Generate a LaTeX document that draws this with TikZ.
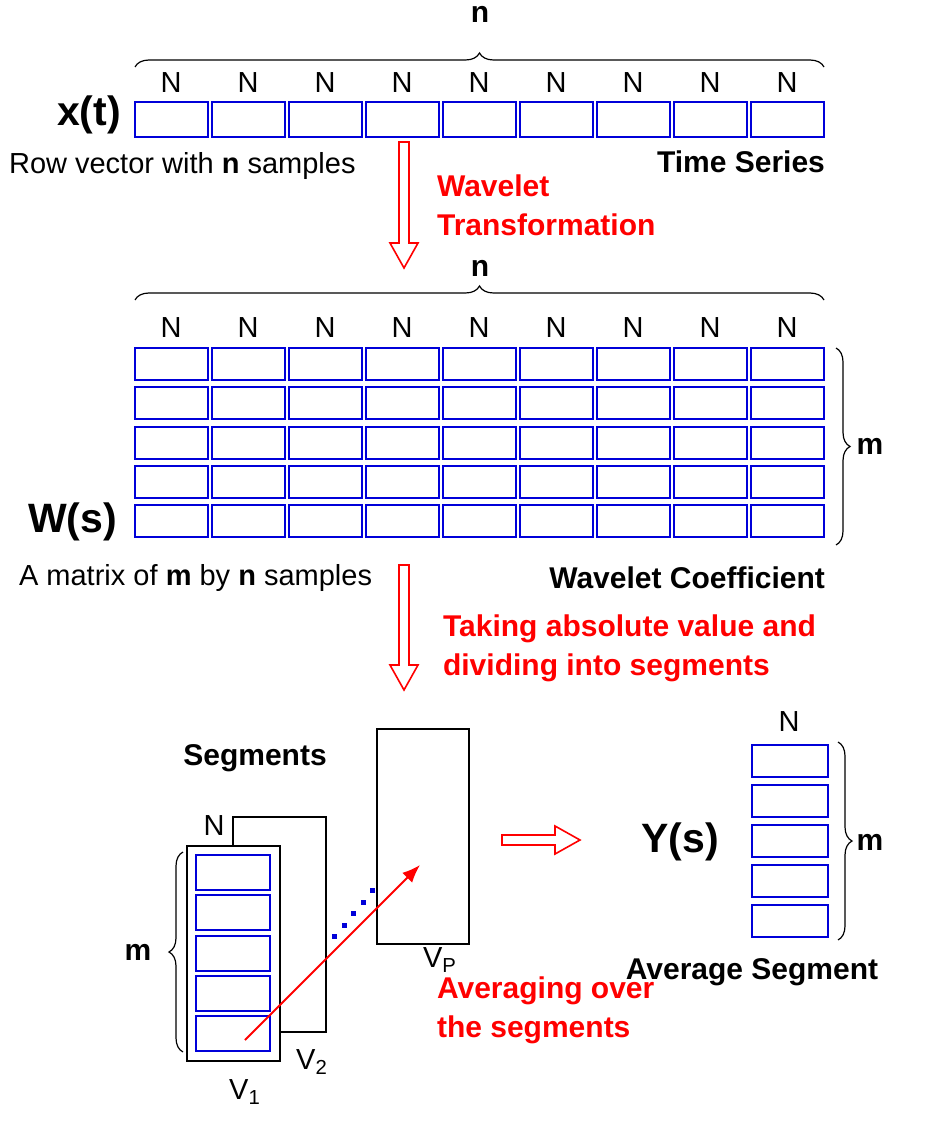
\documentclass[tikz,border=0pt]{standalone}
\usepackage{fontspec}
\setmainfont{Liberation Sans}
\usetikzlibrary{decorations.pathreplacing,arrows.meta}
\begin{document}
\begin{tikzpicture}[x=0.5pt,y=-0.5pt,
    cell/.style={draw=blue!85!black, line width=0.9pt},
    seg/.style={draw=black, fill=white, line width=0.7pt},
    brc/.style={decorate, decoration={brace, amplitude=7pt}, line width=0.6pt},
    lbl/.style={font=\fontsize{14.5}{16}\selectfont},
    bld/.style={font=\fontsize{15}{17}\selectfont\bfseries},
    title/.style={font=\fontsize{20.5}{22}\selectfont\bfseries},
    redtxt/.style={font=\fontsize{15}{19.5}\selectfont\bfseries, text=red, align=left, anchor=west},
    hollow/.style={draw=red, line width=0.8pt, fill=white},
]
\useasboundingbox (0,0) rectangle (934,1138);

% Time series row
\foreach \i in {0,...,8} {
    \draw[cell] (135+77*\i,102) rectangle +(73,35);
    \node[lbl] (nt\i) at (171+77*\i,83) {N};
}
\draw[brc] (135,67) -- (824,67);
\node[bld] (ntop) at (480,14) {n};
\node[title, anchor=east] (xt) at (128,115) {x(t)};
\node[lbl, anchor=west] (rowtxt) at (2,166) {Row vector with \textbf{n} samples};
\node[bld, anchor=east] (ts) at (832,162) {Time Series};

% First transformation arrow
\draw[hollow] (399,142) -- (409,142) -- (409,243) -- (418,243) -- (404,268) -- (390,243) -- (399,243) -- cycle;
\node[redtxt] (wt) at (430,205) {Wavelet\\Transformation};

% Wavelet coefficient matrix
\foreach \i in {0,...,8} {
    \foreach \j in {0,...,4}
        \draw[cell] (135+77*\i,348+39.3*\j) rectangle +(73,32);
    \node[lbl] (nm\i) at (171+77*\i,328) {N};
}
\draw[brc] (135,300) -- (824,300);
\node[bld] (nmid) at (480,268) {n};
\draw[brc] (836,348) -- (836,545);
\node[bld] (mr) at (870,446) {m};
\node[title, anchor=east] (ws) at (124,522) {W(s)};
\node[lbl, anchor=west] (mattxt) at (12,578) {A matrix of \textbf{m} by \textbf{n} samples};
\node[bld, anchor=east] (wc) at (832,578) {Wavelet Coefficient};

% Second transformation arrow
\draw[hollow] (399,565) -- (409,565) -- (409,665) -- (418,665) -- (404,690) -- (390,665) -- (399,665) -- cycle;
\node[redtxt] (abs) at (436,648) {Taking absolute value and\\dividing into segments};

% Segments
\node[bld] (segs) at (255,758) {Segments};
\draw[seg] (377,729) rectangle (469,944);
\draw[seg] (233,817) rectangle (326,1032);
\draw[seg] (187,846) rectangle (280,1061);
\foreach \j in {0,...,4}
    \draw[cell] (196,855+40.3*\j) rectangle +(74,35);
\node[lbl] (ns) at (214,826) {N};
\draw[brc] (183,1052) -- (183,852);
\node[bld] (ml) at (138,952) {m};
\node[lbl] (v1) at (245,1092) {V\textsubscript{1}};
\node[lbl] (v2) at (312,1062) {V\textsubscript{2}};
\node[lbl] (vp) at (440,960) {V\textsubscript{P}};
\foreach \k in {0,...,4}
    \fill[blue!85!black] (332+9.5*\k,934-11.5*\k) rectangle +(5,5);
\coordinate (avgfrom) at (245,1040);
\coordinate (avgto) at (420,865);
\draw[red, line width=1pt, -{Latex[length=9pt,width=7pt]}] (avgfrom) -- (avgto);
\node[redtxt] (avg) at (430,1010) {Averaging over\\the segments};

% Third arrow
\draw[hollow] (502,835) -- (555,835) -- (555,826) -- (580,840) -- (555,854) -- (555,845) -- (502,845) -- cycle;

% Average segment
\foreach \j in {0,...,4}
    \draw[cell] (752,745+40*\j) rectangle +(76,32);
\node[lbl] (na) at (789,722) {N};
\draw[brc] (838,742) -- (838,940);
\node[bld] (ma) at (870,842) {m};
\node[title] (ys) at (680,842) {Y(s)};
\node[bld] (as) at (752,972) {Average Segment};
\end{tikzpicture}
\end{document}
